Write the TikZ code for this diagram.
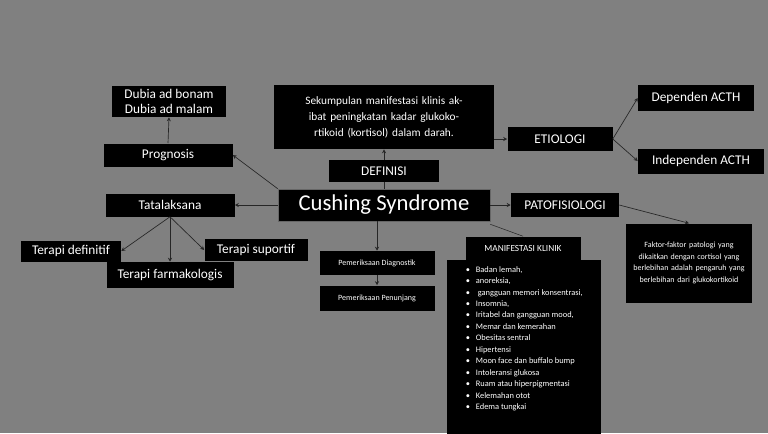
\documentclass[tikz,border=0pt]{standalone}
\usepackage{fontspec}
\setmainfont{Carlito}
\usepackage{tikz}
\usetikzlibrary{arrows.meta}
\newcommand{\pix}{*0.75pt}
\newcommand{\bul}{\makebox[7.5pt][l]{\textbullet}}
\tikzset{
box/.style={
  rectangle,fill=black,text=white,inner sep=0pt,
  minimum height=#1\pix,align=center},
box/.default=23,
lab/.style={font=\fontsize{10}{12}\selectfont},
small/.style={font=\fontsize{6}{9}\selectfont},
link/.style={draw=black!85,line width=0.5pt,-{Stealth[length=3pt,width=3pt]}},
}
\begin{document}
\begin{tikzpicture}[x=0.75pt,y=-0.75pt]
\fill[black!50] (0,0) rectangle (768,433);
\useasboundingbox (0,0) rectangle (768,433);
% the central node
\node[box=32,minimum width=212\pix,draw=black!60,font=\fontsize{17}{20}\selectfont] (cush) at (384,205) {Cushing Syndrome};
% left side
\node[box=31,minimum width=114\pix,font=\fontsize{10}{11.5}\selectfont] (dubia) at (169,101.5) {Dubia ad bonam\\Dubia ad malam};
\node[box,minimum width=129\pix,lab] (prog) at (168,155) {Prognosis};
\node[box,minimum width=129\pix,lab] (tata) at (170,205) {Tatalaksana};
\node[box=21,minimum width=100\pix,lab] (tdef) at (71,251) {Terapi definitif};
\node[box=26,minimum width=127\pix,lab] (tfar) at (170,275) {Terapi farmakologis};
\node[box=22,minimum width=103\pix,lab] (tsup) at (256,250) {Terapi suportif};
% top
\node[box=64,minimum width=220\pix,text width=210\pix,font=\fontsize{8.5}{12}\selectfont] (defbox) at (384,117)
  {Sekumpulan manifestasi klinis akibat peningkatan kadar glukokortikoid (kortisol) dalam darah.};
\node[box=22,minimum width=110\pix,lab] (defi) at (384,171) {DEFINISI};
% bottom
\node[box=24,minimum width=115\pix,small] (pdiag) at (377,263) {Pemeriksaan Diagnostik};
\node[box=25,minimum width=115\pix,small] (ppen) at (377,298) {Pemeriksaan Penunjang};
% right side
\node[box=24,minimum width=105\pix,lab] (etio) at (560,139) {ETIOLOGI};
\node[box=26,minimum width=116\pix,lab] (dep) at (696,98) {Dependen ACTH};
\node[box=25,minimum width=126\pix,lab] (indep) at (701,161) {Independen ACTH};
\node[box=24,minimum width=108\pix,lab] (pato) at (565,205) {PATOFISIOLOGI};
\node[box=79,minimum width=126\pix,text width=120\pix,font=\fontsize{6}{8.6}\selectfont] (fakt) at (689,263)
  {Faktor-faktor patologi yang dikaitkan dengan cortisol yang berlebihan adalah pengaruh yang berlebihan dari glukokortikoid};
\node[box=23,minimum width=115\pix,font=\fontsize{7}{9}\selectfont] (mani) at (523,248) {MANIFESTASI KLINIK};
\node[box=173,minimum width=154\pix,anchor=north west,align=left,
  font=\fontsize{6.3}{8.6}\selectfont,inner sep=4.5pt] (mlist) at (447,260)
  {\bul Badan lemah,\\
   \bul anoreksia,\\
   \bul\ gangguan memori konsentrasi,\\
   \bul Insomnia,\\
   \bul Iritabel dan gangguan mood,\\
   \bul Memar dan kemerahan\\
   \bul Obesitas sentral\\
   \bul Hipertensi\\
   \bul Moon face dan buffalo bump\\
   \bul Intoleransi glukosa\\
   \bul Ruam atau hiperpigmentasi\\
   \bul Kelemahan otot\\
   \bul Edema tungkai\\[6pt]\mbox{}};
% the connectors
\draw[link] (cush.north west) -- (prog.east);
\draw[link] (prog.north) -- (dubia.south);
\draw[link] (cush.west) -- (tata.east);
\draw[link] (tata.south) -- (tdef.east);
\draw[link] (tata.south) -- (tfar.north);
\draw[link] (tata.south) -- (tsup.west);
\draw[draw=black!85] (cush.north) -- (defi.south);
\draw[link] (defi.north) -- (defbox.south);
\draw[link] (cush.south -| pdiag.north) -- (pdiag.north);
\draw[link] (pdiag.south) -- (ppen.north);
\draw[draw=black!85] ([yshift=-2.25pt]cush.south east) -- (mani.north);
\draw[link] (cush.east) -- (pato.west);
\draw[link] (pato.east) -- (fakt.north);
\draw[link] (defbox.east |- etio.west) -- (etio.west);
\draw[link] (etio.east) -- (dep.west);
\draw[link] (etio.east) -- (indep.west);
\end{tikzpicture}
\end{document}
